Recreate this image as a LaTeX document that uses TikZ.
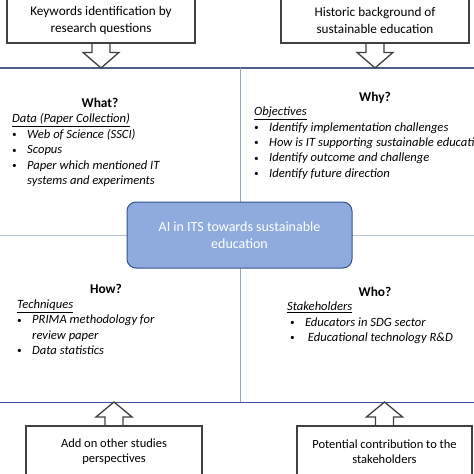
\documentclass[tikz,border=0pt]{standalone}
\usepackage{fontspec}
\setmainfont{Carlito}
\usetikzlibrary{calc}
\definecolor{framegray}{RGB}{64,64,64}
\definecolor{slateline}{RGB}{78,96,132}
\definecolor{paleline}{RGB}{184,194,214}
\definecolor{midline}{RGB}{150,166,200}
\definecolor{hubfill}{RGB}{143,170,220}
\definecolor{hubdraw}{RGB}{52,84,140}
\newcommand{\bul}{\makebox[15pt][l]{\raisebox{0.6pt}{\fontsize{9}{9}\selectfont\textbullet}}}

\begin{document}
\begin{tikzpicture}[x=1pt, y=-1pt,
    stepframe/.style={draw=framegray, line width=1.3pt, fill=white, align=center,
                      inner sep=0pt, font=\fontsize{13.2}{17}\selectfont},
    lowframe/.style={stepframe, font=\fontsize{12.5}{15.5}\selectfont},
    blockarrow/.style={draw=framegray, line width=1.3pt, line join=miter},
    hub/.style={rectangle, draw=hubdraw, line width=1pt, fill=hubfill, rounded corners=9pt,
                minimum width=225pt, minimum height=66pt, align=center, text=white,
                font=\fontsize{14}{16.5}\selectfont},
    quadtitle/.style={font=\bfseries\fontsize{13.4}{15}\selectfont, anchor=base},
    quadlist/.style={anchor=north west, align=left, inner sep=0pt,
                     font=\itshape\fontsize{12.6}{15.3}\selectfont}
]
    \useasboundingbox (0,0) rectangle (474,474);

    % frame lines
    \draw[slateline, line width=1.1pt] (0,68) -- (474,68);
    \draw[slateline!80!blue, line width=1pt] (0,402) -- (474,402);
    \draw[paleline, line width=1.2pt] (0,235.5) -- (474,235.5);
    \draw[midline, line width=1pt] (240.5,68) -- (240.5,402);

    % feeding boxes
    \node[stepframe, minimum width=188pt, minimum height=45pt] (kw) at (101,20.5)
        {Keywords identification by\\research questions};
    \node[stepframe, minimum width=188pt, minimum height=45pt] (hist) at (375,20.5)
        {Historic background of\\sustainable education};
    \node[lowframe, minimum width=176pt, minimum height=51pt] (other) at (114,451.5)
        {Add on other studies\\perspectives};
    \node[lowframe, minimum width=175pt, minimum height=51pt] (contrib) at (384.5,451.5)
        {Potential contribution to the\\stakeholders};

    \coordinate (kwtip) at (101,68);
    \coordinate (histtip) at (375,68);
    \coordinate (othertip) at (114,402);
    \coordinate (contribtip) at (384.5,402);

    \foreach \src/\tip in {kw.south/kwtip, hist.south/histtip, other.north/othertip, contrib.north/contribtip}{
        \coordinate (hb) at ($(\tip)!0.64!(\src)$);
        \draw[blockarrow] ($(\src)+(-9,0)$) -- ($(hb)+(-9,0)$) -- ($(hb)+(-18,0)$) -- (\tip)
            -- ($(hb)+(18,0)$) -- ($(hb)+(9,0)$) -- ($(\src)+(9,0)$);
    }

    % centre
    \node[hub] (core) at (239.5,235) {AI in ITS towards sustainable\\education};

    % what
    \node[quadtitle] (what) at (100,107) {What?};
    \node[quadlist] (whatlist) at (12,113) {\underline{Data (Paper Collection)}\\[0.7pt]
        \bul Web of Science (SSCI)\\
        \bul Scopus\\
        \bul Paper which mentioned IT\\
        \makebox[15pt]{}systems and experiments};

    % why
    \node[quadtitle] (why) at (375,101) {Why?};
    \node[quadlist] (whylist) at (254,107) {\underline{Objectives}\\
        \bul Identify implementation challenges\\
        \bul How is IT supporting sustainable education\\
        \bul Identify outcome and challenge\\
        \bul Identify future direction};

    % how
    \node[quadtitle] (how) at (106,293) {How?};
    \node[quadlist] (howlist) at (17,299.5) {\underline{Techniques}\\
        \bul PRIMA methodology for\\
        \makebox[15pt]{}review paper\\
        \bul Data statistics};

    % who
    \node[quadtitle] (who) at (375,296) {Who?};
    \node[quadlist] (wholist) at (287,302) {\underline{Stakeholders}\\
        \ \bul Educators in SDG sector\\
        \ \bul\ Educational technology R\&D};
\end{tikzpicture}
\end{document}
